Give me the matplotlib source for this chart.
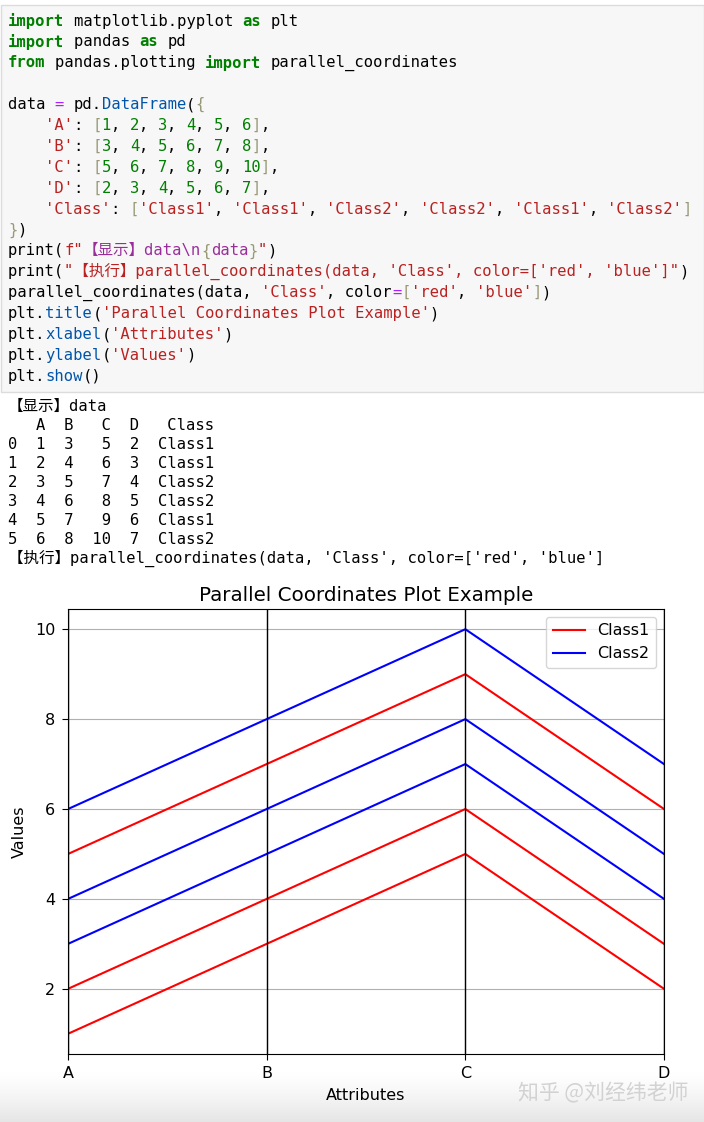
import matplotlib
matplotlib.use("Agg")
import matplotlib.pyplot as plt
import numpy as np
import pandas as pd
from pandas.plotting import parallel_coordinates
from matplotlib.patches import Rectangle

# ---------------- data ----------------
A = [1, 2, 3, 4, 5, 6]
B = [3, 4, 5, 6, 7, 8]
C = [5, 6, 7, 8, 9, 10]
D = [2, 3, 4, 5, 6, 7]
CLASSES = ['Class1', 'Class1', 'Class2', 'Class2', 'Class1', 'Class2']
LINE_COLORS = ['red', 'blue']
TITLE = 'Parallel Coordinates Plot Example'
XLABEL = 'Attributes'
YLABEL = 'Values'

data = pd.DataFrame({'A': A, 'B': B, 'C': C, 'D': D, 'Class': CLASSES})

W, H = 704, 1122
fig = plt.figure(figsize=(W / 100, H / 100), dpi=100)
fig.patch.set_facecolor('white')

# background axes in pixel coordinates
bg = fig.add_axes([0, 0, 1, 1])
bg.set_xlim(0, W)
bg.set_ylim(H, 0)
bg.axis('off')
bg.set_zorder(-1)

# bottom grey gradient
grad = np.linspace(0, 1, 100) ** 1.3
grad_img = np.ones((100, 1, 3)) * (1 - 0.10 * grad)[:, None, None]
bg.imshow(grad_img, extent=(0, W, H, 1072), aspect='auto', interpolation='bilinear', zorder=0)

# code cell box
bg.add_patch(Rectangle((0.5, 5), W - 1, 387, facecolor='#f7f7f7', edgecolor='#dcdcdc', lw=1, zorder=1))

MONO = ['DejaVu Sans Mono', 'Noto Sans CJK SC']
FS = 11.2
CW = 0.602 * FS * 100 / 72      # mono advance in px
CJKW = 1.0 * FS * 100 / 72      # full width advance in px


def char_w(ch):
    return CJKW if ord(ch) >= 0x2E80 or ch in '【】' else CW


def draw_line(y, segs, x0=8):
    x = x0
    for text, color, bold in segs:
        stripped = text.lstrip(' ')
        x += CW * (len(text) - len(stripped))
        if stripped:
            bg.text(x, y, stripped, color=color, fontsize=FS, family=MONO,
                    fontweight='bold' if bold else 'normal',
                    ha='left', va='center', zorder=3)
        x += sum(char_w(c) for c in stripped)


KW = ('#008000', True)
NUM = ('#008000', False)
STR = ('#BA2121', False)
PROP = ('#0055AA', False)
OP = ('#AA22FF', False)
BR = ('#999977', False)
TX = ('#000000', False)
FSTR = ('#9A2D9A', False)


def s(t, style):
    return (t, style[0], style[1])


def list_segs(key, vals, last=False):
    segs = [s("    ", TX), s(f"'{key}'", STR), s(": ", TX), s("[", BR)]
    for i, v in enumerate(vals):
        if isinstance(v, str):
            segs.append(s(f"'{v}'", STR))
        else:
            segs.append(s(str(v), NUM))
        if i < len(vals) - 1:
            segs.append(s(", ", TX))
    segs.append(s("]", BR))
    if not last:
        segs.append(s(",", TX))
    return segs


code_lines = [
    [s("import", KW), s(" matplotlib.pyplot ", TX), s("as", KW), s(" plt", TX)],
    [s("import", KW), s(" pandas ", TX), s("as", KW), s(" pd", TX)],
    [s("from", KW), s(" pandas.plotting ", TX), s("import", KW), s(" parallel_coordinates", TX)],
    [],
    [s("data ", TX), s("=", OP), s(" pd.", TX), s("DataFrame", PROP), s("(", TX), s("{", BR)],
    list_segs('A', A),
    list_segs('B', B),
    list_segs('C', C),
    list_segs('D', D),
    list_segs('Class', CLASSES, last=True),
    [s("}", BR), s(")", TX)],
    [s("print(", TX), s('f"', STR), s("【显示】data\\n", FSTR), s("{", BR), s("data", FSTR),
     s("}", BR), s('"', STR), s(")", TX)],
    [s("print(", TX), s("\"【执行】parallel_coordinates(data, 'Class', color=['red', 'blue']\"", STR),
     s(")", TX)],
    [s("parallel_coordinates(data, ", TX), s("'Class'", STR), s(", color", TX), s("=", OP),
     s("[", BR), s("'red'", STR), s(", ", TX), s("'blue'", STR), s("]", BR), s(")", TX)],
    [s("plt.", TX), s("title", PROP), s("(", TX), s(f"'{TITLE}'", STR), s(")", TX)],
    [s("plt.", TX), s("xlabel", PROP), s("(", TX), s(f"'{XLABEL}'", STR), s(")", TX)],
    [s("plt.", TX), s("ylabel", PROP), s("(", TX), s(f"'{YLABEL}'", STR), s(")", TX)],
    [s("plt.", TX), s("show", PROP), s("()", TX)],
]

for i, segs in enumerate(code_lines):
    if segs:
        draw_line(21 + i * 20.9, segs)

# output area
out_lines = ["【显示】data"] + str(data).split("\n") + \
    ["【执行】parallel_coordinates(data, 'Class', color=['red', 'blue']"]
for i, line in enumerate(out_lines):
    draw_line(406 + i * 19.1, [s(line, TX)], x0=8)

# watermark
bg.text(688, 1093, "知乎 @刘经纬老师", fontsize=15, color='#d2d2d2',
        family=['Noto Sans CJK SC', 'DejaVu Sans'], ha='right', va='center', zorder=3)

# ---------------- chart ----------------
ax = fig.add_axes([68 / W, 1 - 1054 / H, (664 - 68) / W, (1054 - 609) / H])
parallel_coordinates(data, 'Class', color=LINE_COLORS, ax=ax)
ax.set_title(TITLE, fontsize=14.3, pad=6)
ax.set_xlabel(XLABEL, fontsize=11.5, labelpad=5)
ax.set_ylabel(YLABEL, fontsize=11.5, labelpad=6)
ax.tick_params(labelsize=11.5, length=4.5, pad=4.5)
ax.legend(loc='upper right', fontsize=11.5)

fig.savefig("out.png", dpi=100, facecolor='white')
